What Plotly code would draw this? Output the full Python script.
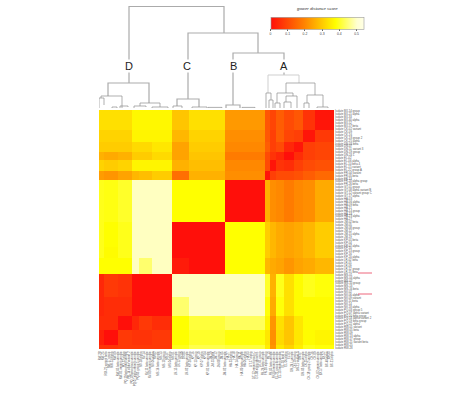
import plotly.graph_objects as go

W, H = 474, 396

# Heatmap blocks (axis units: position along the ordered leaves)
column_edges = [99, 104, 118, 132, 139, 152, 172, 189, 225, 265, 270, 276, 284, 294, 303, 315, 334]
row_edges = [110, 130, 142, 152, 160, 171, 180, 222, 247, 258, 274, 297, 316, 330, 345, 349]
distance_blocks = [
    [.33, .33, .33, .365, .365, .365, .29, .33, .225, .12, .09, .13, .10, .12, .06, .01],
    [.31, .31, .31, .36, .36, .36, .27, .31, .21, .12, .08, .13, .09, .08, .01, .07],
    [.30, .30, .30, .32, .32, .34, .24, .30, .20, .13, .08, .10, .04, .01, .08, .09],
    [.26, .25, .26, .30, .30, .32, .24, .29, .18, .10, .06, .04, .00, .05, .08, .09],
    [.31, .30, .31, .36, .36, .36, .26, .28, .20, .10, .01, .06, .05, .08, .10, .11],
    [.23, .22, .24, .27, .28, .30, .16, .26, .21, .01, .08, .10, .10, .11, .13, .15],
    [.39, .385, .40, .49, .49, .49, .375, .375, .00, .26, .21, .20, .18, .20, .21, .25],
    [.39, .375, .39, .49, .49, .49, .00, .00, .375, .30, .27, .25, .24, .25, .27, .30],
    [.39, .37, .39, .49, .49, .49, .00, .00, .375, .30, .27, .25, .24, .25, .27, .30],
    [.375, .375, .375, .49, .44, .49, .02, .00, .375, .27, .25, .24, .22, .24, .25, .27],
    [.04, .07, .06, .00, .00, .00, .49, .49, .49, .40, .26, .39, .33, .37, .39, .38],
    [.04, .05, .05, .00, .00, .00, .44, .49, .49, .38, .25, .38, .33, .37, .37, .37],
    [.05, .05, .00, .04, .07, .05, .375, .41, .43, .36, .22, .33, .29, .34, .37, .37],
    [.03, .00, .07, .06, .06, .07, .375, .40, .38, .34, .21, .32, .29, .34, .37, .36],
    [.06, .06, .07, .07, .07, .07, .39, .42, .41, .35, .22, .34, .31, .35, .39, .38],
]
score_colors = [[0, "#FF0F0A"], [.35, "#FF8000"], [.694, "#FFFF00"], [.926, "#FFFFD2"], [1, "#FFFFE6"]]
score_ticks = [0, .1, .2, .3, .4, .5]
score_tick_labels = ["0", "0.1", "0.2", "0.3", "0.4", "0.5"]

# Dendrogram merges: left position, right position, left child height, right child height, merge height
main_links = [
    (129, 224, 25, 75, 101.5), (188, 258, 9, 55, 75), (233, 284, 3, 33, 55),
    (108, 149, 12, 5, 25), (177, 199, 2, 1, 9), (226, 240, 0, 0, 3),
]
light_links = [(268, 299, 15, 25, 33)]
fine_links = [
    (101, 122, 10, 0, 12), (99, 104, 0, 3, 10), (112, 117, 0, 0, 1), (120, 128, 0, 1, 2),
    (140, 160, 2, 1, 5), (134, 146, 0, 1, 2), (152, 168, 0, 0, 1), (173, 182, 0, 0, 2),
    (192, 207, 0, 0, 1), (208, 222, 0, 0, .6), (242, 255, 0, 0, .6),
    (266, 271, 0, 8, 15), (269, 273, 0, 0, 8), (286, 315, 15, 13, 25), (277, 293, 5, 12, 15),
    (275, 280, 0, 0, 5), (286, 297, 6, 0, 12), (284, 291, 0, 0, 6), (307, 323, 5, 1, 13),
    (304, 309, 0, 0, 5), (317, 328, 0, 0, 1),
]

# Leaf names: the reference's labels are illegible at this resolution, so these are
# placeholders that only approximate the original labels' count and lengths.
row_names = [
    "Isolate BX-14 group", "Isolate BX-21 alpha", "Isolate BX-33", "Isolate BX-40 alpha", "Isolate BX-52",
    "Isolate BX-57 beta", "Isolate CK-02 variant", "Isolate CK-09", "Isolate CK-16", "Isolate CK-18 group 2",
    "Isolate CK-25 alpha", "Isolate DN-03 beta", "Isolate DN-07", "Isolate DN-11 variant 3", "Isolate DN-19 group",
    "Isolate DN-24 L", "Isolate EL-02", "Isolate EL-06 alpha", "Isolate EL-10 beta 4", "Isolate EL-15 variant",
    "Isolate EL-22 group A", "Isolate FR-04 variant", "Isolate FR-05 beta", "Isolate FR-13", "Isolate FR-20 alpha group",
    "Isolate FR-26 beta", "Isolate GT-01 group", "Isolate GT-08 alpha variant B", "Isolate GT-12 variant group C",
    "Isolate GT-17 alpha", "Isolate HA-03", "Isolate HA-06 alpha", "Isolate HA-09 beta", "Isolate HA-11",
    "Isolate HA-14 group", "Isolate HA-18", "Isolate HA-23 alpha", "Isolate HA-27", "Isolate JM-02 beta",
    "Isolate JM-05", "Isolate JM-08 group", "Isolate JM-12", "Isolate JM-15 alpha", "Isolate JM-19",
    "Isolate KP-01 beta", "Isolate KP-04", "Isolate KP-07 alpha", "Isolate KP-10", "Isolate KP-13 group",
    "Isolate KP-16", "Isolate KP-20 alpha", "Isolate LR-02 beta", "Isolate LR-05", "Isolate LR-09",
    "Isolate LR-12 group", "Isolate LR-15 beta", "Isolate MS-01", "Isolate MS-04 alpha", "Isolate MS-07",
    "Isolate MS-10 group", "Isolate MS-13", "Isolate MS-16 beta", "Isolate NV-02", "Isolate NV-06 alpha",
    "Isolate NV-09 variant", "Isolate NV-11 beta", "Isolate NV-14", "Isolate NV-18 alpha", "Isolate PQ-03 group 5",
    "Isolate PQ-07 alpha variant", "Isolate PQ-10 beta group", "Isolate PQ-14 alpha variant 2",
    "Isolate PQ-19 beta group", "Isolate PQ-22 alpha", "Isolate RW-01 variant", "Isolate RW-05 beta",
    "Isolate RW-09", "Isolate RW-13 alpha", "Isolate RW-17 group", "Isolate RW-21 variant beta", "Isolate RW-25",
    "Isolate RW-28",
]
row_centres = [111.5 + 2.915 * i for i in range(len(row_names))]
column_names = [n.replace("Isolate ", "") + (" sample" if len(n) % 3 == 0 else "") for n in row_names[::-1]]
column_centres = [100.4 + 2.9 * i for i in range(len(column_names))]


def link_lines(links):
    xs, ys = [], []
    for left, right, hl, hr, h in links:
        xs += [left, left, right, right, None]
        ys += [hl, h, h, hr, None]
    return xs, ys


fig = go.Figure()
fig.add_trace(go.Heatmap(
    x=column_edges, y=row_edges, z=distance_blocks, zmin=0, zmax=.54, colorscale=score_colors,
    hoverinfo="skip",
    colorbar=dict(
        orientation="h", x=270.5 / W, xanchor="left", y=1 - 37 / H, yanchor="bottom", xpad=0, ypad=0,
        lenmode="pixels", len=93, thickness=12, thicknessmode="pixels", outlinecolor="#9a9a9a", outlinewidth=.6,
        tickmode="array", tickvals=score_ticks, ticktext=score_tick_labels, ticks="outside",
        ticklen=2, tickwidth=.5, tickcolor="#666", tickfont=dict(size=3.4, color="#444", family="Liberation Sans"),
    ),
))
for links, color, width in [(main_links, "#ABABAB", 1.2), (light_links, "#CFCFCF", 1.0), (fine_links, "#8C8C8C", .7)]:
    xs, ys = link_lines(links)
    fig.add_trace(go.Scatter(x=xs, y=ys, xaxis="x2", yaxis="y2", mode="lines",
                             line=dict(color=color, width=width), hoverinfo="skip", showlegend=False))

for text, x in zip("DCBA", [129, 187, 233, 284]):
    fig.add_annotation(x=x, y=42, xref="x2", yref="y2", text=text, showarrow=False, bgcolor="white",
                       borderpad=0, font=dict(size=11, color="#222", family="Liberation Sans"))
fig.add_annotation(x=317 / W, y=1 - 9 / H, xref="paper", yref="paper", xanchor="center", yanchor="middle",
                   text="<i>gower distance score</i>", showarrow=False,
                   font=dict(size=4.3, color="#333", family="Liberation Sans"))
for y in [273, 294]:
    fig.add_shape(type="line", xref="paper", yref="y", x0=358 / W, x1=372 / W, y0=y, y1=y,
                  line=dict(color="#E8405A", width=.8))

fig.update_layout(
    width=W, height=H, margin=dict(l=0, r=0, t=0, b=0, autoexpand=False), paper_bgcolor="white",
    plot_bgcolor="white", showlegend=False,
    xaxis=dict(domain=[99 / W, 334 / W], range=[99, 334], tickmode="array", tickvals=column_centres,
               ticktext=column_names, tickangle=-90, ticks="", showgrid=False, zeroline=False, ticklabelstandoff=1,
               tickfont=dict(size=2.8, color="#555", family="Liberation Sans"), automargin=False),
    yaxis=dict(domain=[1 - 349 / H, 1 - 110 / H], range=[349, 110], side="right", tickmode="array",
               tickvals=row_centres, ticktext=row_names, ticks="", showgrid=False, zeroline=False,
               tickfont=dict(size=2.8, color="#555", family="Liberation Sans"), automargin=False),
    xaxis2=dict(domain=[99 / W, 334 / W], range=[99, 334], anchor="y2", visible=False),
    yaxis2=dict(domain=[1 - 108 / H, 1 - 6 / H], range=[0, 102], anchor="x2", visible=False),
)
fig.write_html("out.html", config={"displayModeBar": False},
               post_script="document.body.style.margin='0';document.body.style.overflow='hidden';")
